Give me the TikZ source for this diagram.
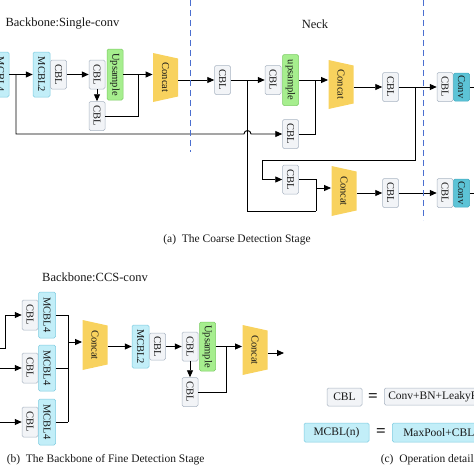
\documentclass[tikz,border=0pt]{standalone}
\usepackage{fontspec}
\setmainfont{Liberation Serif}
\usepackage{graphicx}
\usetikzlibrary{arrows.meta,positioning,calc}

\definecolor{cblfill}{HTML}{F2F4F7}
\definecolor{cbldraw}{HTML}{A9B4C2}
\definecolor{mcblfill}{HTML}{C2EEF8}
\definecolor{mcbldraw}{HTML}{7CCBE0}
\definecolor{upfill}{HTML}{A6EE8E}
\definecolor{updraw}{HTML}{7ACB62}
\definecolor{catfill}{HTML}{F8D25E}
\definecolor{convfill}{HTML}{5CC3D6}
\definecolor{convdraw}{HTML}{3FA9BF}
\definecolor{dashcol}{HTML}{4A6FD0}

\newcommand{\vlabel}[1]{\rotatebox{-90}{#1}}

\begin{document}
\begin{tikzpicture}[%
    x=1pt, y=1pt,
    >={Triangle[length=7pt,width=6pt]},
    line width=0.9pt,
    every node/.style={font=\fontsize{10.5}{12}\selectfont, text=black!90},
    box/.style={draw, line width=0.5pt, rounded corners=1.5pt, inner sep=0pt},
    cblcol/.style={box, draw=cbldraw, fill=cblfill},
    mcblcol/.style={box, draw=mcbldraw, fill=mcblfill},
    cbl/.style={cblcol, minimum width=16pt, minimum height=29pt},
    mcbl/.style={mcblcol, minimum width=17pt, minimum height=45pt},
    ups/.style={box, draw=updraw, fill=upfill, minimum width=16pt, minimum height=51pt},
    conv/.style={box, draw=convdraw, fill=convfill, minimum width=16pt, minimum height=28pt},
    concat/.style={minimum width=25pt, minimum height=49pt, inner sep=0pt,
      path picture={\fill[catfill] (path picture bounding box.north west)
        -- ([yshift=-5.5pt]path picture bounding box.north east)
        -- ([yshift=5.5pt]path picture bounding box.south east)
        -- (path picture bounding box.south west) -- cycle;}},
    sect/.style={draw=dashcol, line width=1pt, dash pattern=on 6pt off 4pt},
    title/.style={font=\fontsize{12.5}{14}\selectfont},
    captext/.style={font=\fontsize{11.5}{13}\selectfont},
    big/.style={font=\fontsize{11.5}{13}\selectfont},
    eqs/.style={font=\fontsize{17}{18}\selectfont\bfseries, inner sep=0pt}
  ]
  \useasboundingbox (0,0) rectangle (474,-474);
  \clip (0,0) rectangle (474,-474);

  % (a) coarse detection stage
  \node[title] (tA) at (62.5,-24) {Backbone:Single-conv};
  \node[title] (tN) at (315,-24) {Neck};

  \node[mcbl] (mA) at (0.5,-74.5) {\vlabel{MCBL4}};
  \node[mcbl] (mB) at (41.5,-74.5) {\vlabel{MCBL2}};
  \node[cbl, right=0pt of mB] (cA) {\vlabel{CBL}};
  \node[cbl] (cB) at (97,-74.5) {\vlabel{CBL}};
  \node[ups, right=1.5pt of cB] (uA) {\vlabel{Upsample}};
  \node[cbl] (cC) at (97,-116) {\vlabel{CBL}};
  \node[concat] (kA) at (165.5,-77.5) {\vlabel{Concat}};
  \coordinate (jA) at (138,-74.5);
  \coordinate (bA) at (16,-74.5);

  \path[->] (mA) edge (mB)
            (cA) edge (cB)
            (cB) edge (cC);
  \draw (uA) -- (jA);
  \draw (cC) -| (jA);
  \draw[->] (jA) -- (jA -| kA.west);

  % neck
  \node[cbl] (nA) at (222.5,-80) {\vlabel{CBL}};
  \coordinate (jB) at (247.5,-80);
  \node[cbl] (nB) at (273,-80) {\vlabel{CBL}};
  \node[ups, right=1pt of nB] (uB) {\vlabel{upsample}};
  \node[cbl] (nC) at (290.5,-134) {\vlabel{CBL}};
  \coordinate (jC) at (315,-80);
  \node[concat] (kB) at (341,-84.5) {\vlabel{Concat}};
  \node[cbl] (nD) at (390.5,-87) {\vlabel{CBL}};
  \coordinate (jD) at (415,-87);
  \node[cbl] (nE) at (445,-87) {\vlabel{CBL}};
  \node[conv, right=0pt of nE] (vA) {\vlabel{Conv}};
  \coordinate (eA) at (480,-87);

  \draw[->] (kA.east |- nA) -- (nA);
  \path[->] (nA) edge (nB);
  \draw (uB) -- (jC);
  \draw (nC) -| (jC);
  \draw[->] (jC) -- (jC -| kB.west);
  \draw[->] (kB.east |- nD) -- (nD);
  \path[->] (nD) edge (nE);
  \draw (vA) -- (eA);

  \coordinate (hA) at ($(jB |- nC)+(-3.5,0)$);
  \draw[->] (bA) |- (hA) arc[start angle=180, end angle=0, radius=3.5pt] -- (nC);

  \node[cbl] (nF) at (290.5,-179.5) {\vlabel{CBL}};
  \coordinate (jE) at (262,-160);
  \coordinate (jG) at (316,-211);
  \coordinate (jH) at (316,-188);
  \node[concat, minimum height=50pt] (kC) at (344,-191) {\vlabel{Concat}};
  \node[cbl] (nG) at (390.5,-193) {\vlabel{CBL}};
  \node[cbl] (nH) at (445,-193) {\vlabel{CBL}};
  \node[conv, right=0pt of nH] (vB) {\vlabel{Conv}};
  \coordinate (eB) at (480,-193);

  \draw[->] (jD) |- (jE) |- (nF);
  \draw (jB) |- (jG);
  \draw (nF) -| (jG);
  \draw[->] (jH) -- (jH -| kC.west);
  \draw[->] (kC.east |- nG) -- (nG);
  \path[->] (nG) edge (nH);
  \draw (vB) -- (eB);

  \coordinate (dA1) at (190,0);
  \coordinate (dA2) at (190,-152);
  \coordinate (dB1) at (423,0);
  \coordinate (dB2) at (423,-220);
  \draw[sect] (dA1) -- (dA2);
  \draw[sect] (dB1) -- (dB2);

  \node[captext] (capA) at (237,-240) {(a)\enspace The Coarse Detection Stage};

  % (b) backbone of fine detection stage
  \node[title] (tB) at (95,-277) {Backbone:CCS-conv};
  \node[cbl, minimum height=30pt] (bc1) at (30,-315) {\vlabel{CBL}};
  \node[mcbl, minimum height=46pt, right=0pt of bc1] (bm1) {\vlabel{MCBL4}};
  \node[cbl, minimum height=30pt] (bc2) at (30,-368) {\vlabel{CBL}};
  \node[mcbl, minimum height=46pt, right=0pt of bc2] (bm2) {\vlabel{MCBL4}};
  \node[cbl, minimum height=30pt] (bc3) at (30,-422) {\vlabel{CBL}};
  \node[mcbl, minimum height=46pt, right=0pt of bc3] (bm3) {\vlabel{MCBL4}};
  \coordinate (sA) at (-3,-348);
  \coordinate (sB) at (-3,-368);
  \coordinate (sC) at (-3,-422);
  \coordinate (qA) at (5,-315);
  \coordinate (rA) at (68,-315);
  \coordinate (rB) at (68,-342);
  \coordinate (rC) at (68,-422);

  \draw[->] (sA) -| (qA) -- (bc1);
  \draw[->] (sB) -- (bc2);
  \draw[->] (sC) -- (bc3);
  \draw (bm1) -- (rA) -- (rC);
  \draw (bm2) -- (bm2 -| rA);
  \draw (bm3) -- (rC);

  \node[concat, minimum height=50pt] (kD) at (95,-345) {\vlabel{Concat}};
  \node[mcbl, minimum height=43pt] (bm4) at (140.5,-346.5) {\vlabel{MCBL2}};
  \node[cbl, minimum height=27pt, right=0pt of bm4] (bc4) {\vlabel{CBL}};
  \node[cbl] (bd1) at (190,-346.5) {\vlabel{CBL}};
  \node[ups, minimum height=49pt, right=1pt of bd1] (uC) {\vlabel{Upsample}};
  \node[cbl] (bd2) at (190,-392) {\vlabel{CBL}};
  \coordinate (rD) at (226,-346.5);
  \node[concat, minimum height=50pt] (kE) at (255,-350) {\vlabel{Concat}};
  \coordinate (eC) at (284,-353);

  \draw[->] (rB) -- (rB -| kD.west);
  \draw[->] (kD.east |- bm4) -- (bm4);
  \path[->] (bc4) edge (bd1)
            (bd1) edge (bd2);
  \draw (uC) -- (rD);
  \draw (bd2) -| (rD);
  \draw[->] (rD) -- (rD -| kE.west);
  \draw[->] (kE.east |- eC) -- (eC);

  \node[captext, anchor=west] (capB) at (3,-460) {(b)\enspace The Backbone of Fine Detection Stage};

  % (c) operation details
  \node[cblcol, big, minimum width=35pt, minimum height=18pt] (dA) at (344.5,-397) {CBL};
  \node[eqs] (qA1) at (373,-397.5) {=};
  \node[cblcol, big, anchor=west, inner xsep=4pt, minimum height=17pt] (dB) at (384,-396.5) {Conv+BN+LeakyReLU};
  \node[mcblcol, big, minimum width=65pt, minimum height=19pt] (dC) at (336.5,-432.5) {MCBL(n)};
  \node[eqs] (qA2) at (381,-433) {=};
  \node[mcblcol, big, anchor=west, inner xsep=11pt, minimum height=19pt] (dD) at (392,-432.5) {MaxPool+CBL};

  \node[captext, anchor=west] (capC) at (377,-460) {(c)\enspace Operation details};
\end{tikzpicture}
\end{document}
